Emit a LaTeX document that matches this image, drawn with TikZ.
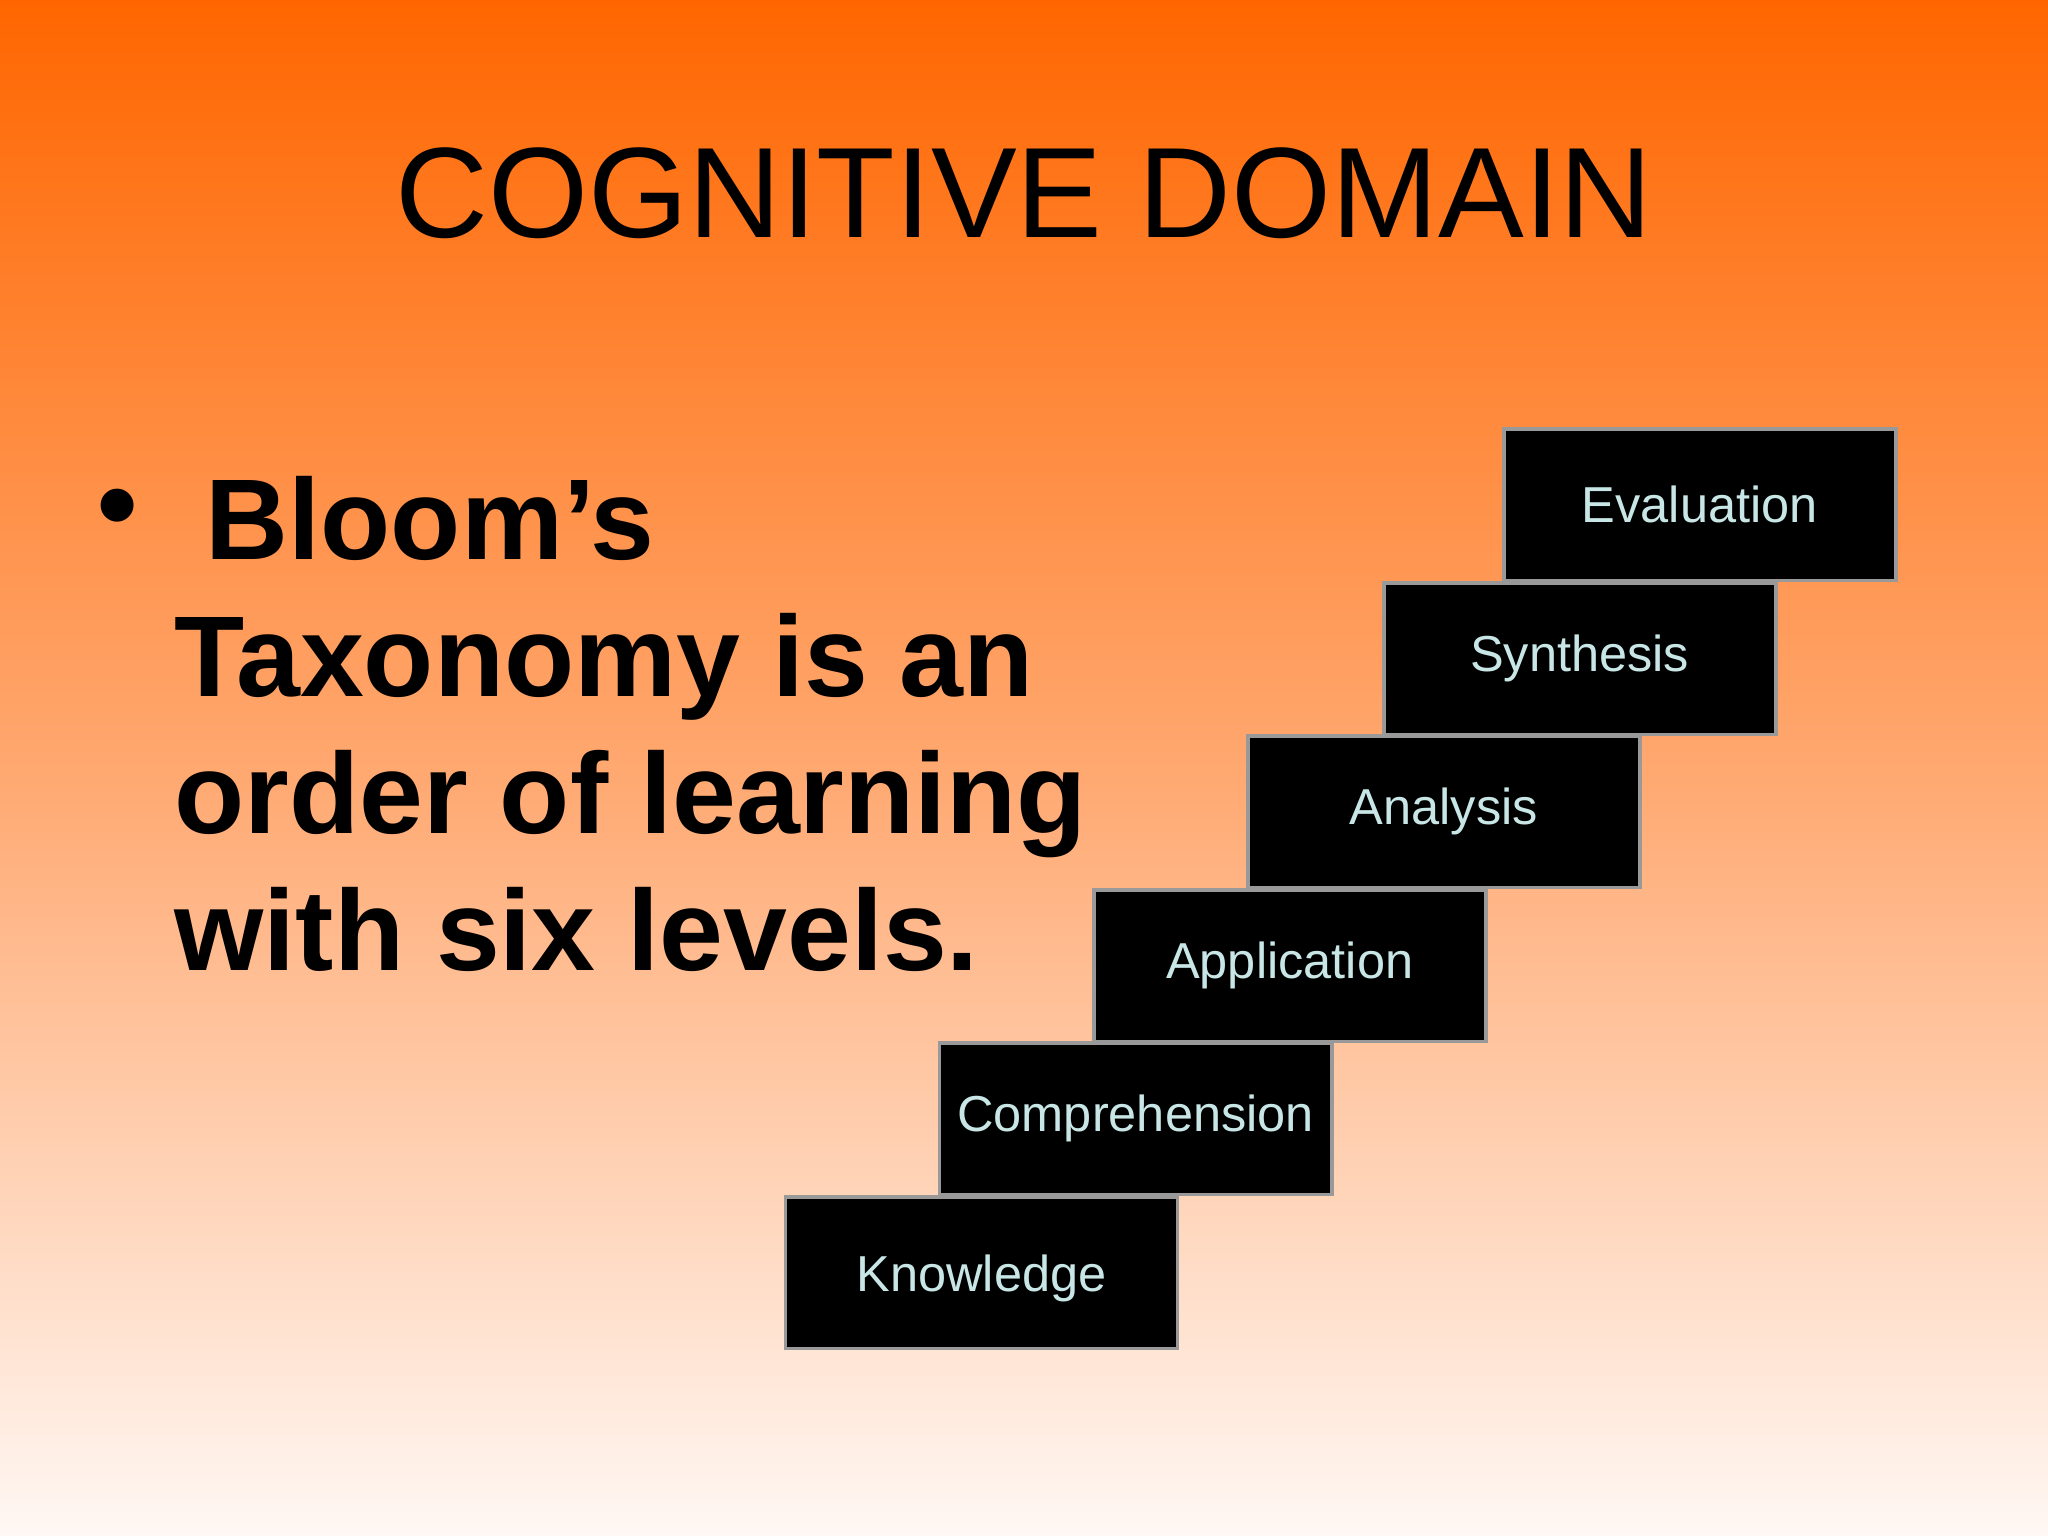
\documentclass[tikz,border=0pt]{standalone}
\usepackage{fontspec}
\setmainfont{Liberation Sans}
\definecolor{topc}{HTML}{FF6600}
\definecolor{botc}{HTML}{FFF8F4}
\definecolor{txtc}{HTML}{C8E6E6}
\begin{document}
\begin{tikzpicture}[x=0.01cm,y=-0.01cm,
  stair/.style={draw=gray!80,line width=0.8pt,fill=black,text=txtc,minimum width=3cm,minimum height=1.16cm,font=\fontsize{11}{13}\selectfont,anchor=north west,inner sep=0pt},
  big/.style={font=\fontsize{25}{30}\selectfont\bfseries,anchor=base west,inner sep=0pt}]
\useasboundingbox (0,0) rectangle (1568,1176);
\shade[top color=topc,bottom color=botc,middle color={rgb,255:red,255;green,168;blue,112}] (0,0) rectangle (1568,1176);
\node[font=\fontsize{28}{34}\selectfont,anchor=base,inner sep=0pt] (title) at (784,182) {COGNITIVE DOMAIN};
\node[font=\fontsize{25}{30}\selectfont\bfseries,inner sep=0pt] (bul) at (90,395) {•};
\node[big] (l1) at (157,428) {Bloom’s};
\node[big] (l2) at (133,533) {Taxonomy is an};
\node[big] (l3) at (133,638) {order of learning};
\node[big] (l4) at (133,743) {with six levels.};
\node[stair] (ev) at (1150,327) {Evaluation};
\node[stair] (sy) at (1058,445) {Synthesis};
\node[stair] (an) at (954,562) {Analysis};
\node[stair] (ap) at (836,680) {Application};
\node[stair] (co) at (718,797) {Comprehension};
\node[stair,text depth=-0.25cm] (kn) at (600,915) {Knowledge};
\end{tikzpicture}
\end{document}
